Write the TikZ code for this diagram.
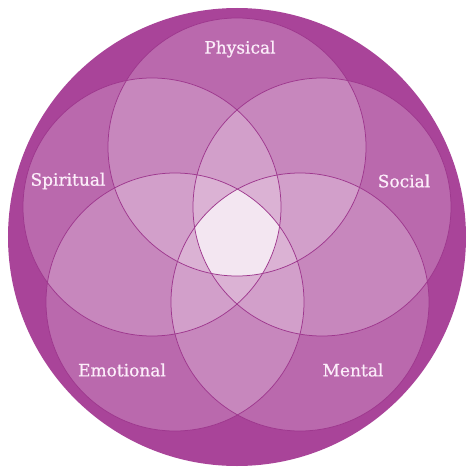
\documentclass[tikz,border=0pt]{standalone}
\usepackage{fontspec}
\newfontfamily\labelfont[FakeBold=0.8]{DejaVu Serif}
\usepackage{xcolor}
\usepackage{tikz}
\usetikzlibrary{calc}

\definecolor{ringpurple}{RGB}{169,68,153}
\definecolor{edgepurple}{RGB}{158,56,142}
\definecolor{labelpink}{RGB}{252,238,250}

\begin{document}
\begin{tikzpicture}[
  x=1pt, y=1pt,
  %% shape styles
  ring/.style={circle, minimum size=458pt, inner sep=0pt, fill=ringpurple},
  petal/.style={circle, minimum size=258pt, inner sep=0pt,
    fill=white, fill opacity=0.2},
  petaledge/.style={draw=edgepurple, line width=0.75pt},
  lbl/.style={font=\labelfont\fontsize{17}{19}\selectfont, text=labelpink}
]

\useasboundingbox (-237,-237) rectangle (237,237);
\fill[white] (-237,-237) rectangle (237,237);

%% ── Outer disc ───────────────────────────────────────────────────────────
\node[ring] (outer) at (0,0) {};
\coordinate (mid) at (0,4);

%% ── Five overlapping circles ─────────────────────────────────────────────
\node[petal] (physical)  at (0,90)    {};
\node[petal] (spiritual) at (-85,30)  {};
\node[petal] (emotional) at (-62,-65) {};
\node[petal] (mental)    at (63,-65)  {};
\node[petal] (social)    at (85,30)   {};

%% brighter core where all five meet
\begin{scope}
  \clip (physical.center)  circle[radius=129];
  \clip (spiritual.center) circle[radius=129];
  \clip (emotional.center) circle[radius=129];
  \clip (mental.center)    circle[radius=129];
  \clip (social.center)    circle[radius=129];
  \fill[white, fill opacity=0.6] (mid) circle[radius=110];
\end{scope}

%% outlines on top of all fills
\draw[petaledge] (physical.center)  circle[radius=129];
\draw[petaledge] (spiritual.center) circle[radius=129];
\draw[petaledge] (emotional.center) circle[radius=129];
\draw[petaledge] (mental.center)    circle[radius=129];
\draw[petaledge] (social.center)    circle[radius=129];

%% ── Labels ───────────────────────────────────────────────────────────────
\node[lbl] (lphysical)  at (3,188)     {Physical};
\node[lbl] (lspiritual) at (-169,56)   {Spiritual};
\node[lbl] (lemotional) at (-115,-133) {Emotional};
\node[lbl] (lmental)    at (116,-133)  {Mental};
\node[lbl] (lsocial)    at (167,56)    {Social};

\end{tikzpicture}
\end{document}
